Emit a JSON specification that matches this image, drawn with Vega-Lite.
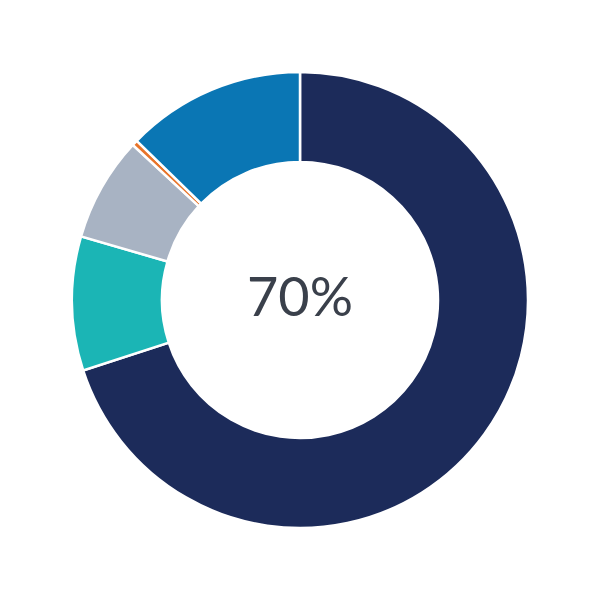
{
  "$schema": "https://vega.github.io/schema/vega-lite/v6.json",
  "width": 600,
  "height": 600,
  "autosize": {"type": "fit", "contains": "padding"},
  "padding": 0,
  "config": {"view": {"stroke": "transparent"}, "background": "#ffffff"},
  "data": {
    "values": [
      {"segment": "A", "share": 70.0, "rank": 1},
      {"segment": "B", "share": 9.5, "rank": 2},
      {"segment": "C", "share": 7.4, "rank": 3},
      {"segment": "D", "share": 0.4, "rank": 4},
      {"segment": "E", "share": 12.7, "rank": 5}
    ]
  },
  "layer": [
    {
      "mark": {"type": "arc", "radius": 228, "radius2": 138, "stroke": "#ffffff", "strokeWidth": 2.5},
      "encoding": {
        "theta": {"field": "share", "type": "quantitative", "stack": true},
        "order": {"field": "rank", "type": "quantitative"},
        "color": {
          "field": "segment",
          "type": "nominal",
          "scale": {
            "domain": ["A", "B", "C", "D", "E"],
            "range": ["#1c2b5a", "#1bb5b5", "#a8b3c3", "#e8742a", "#0a76b4"]
          },
          "legend": null
        }
      }
    },
    {
      "data": {"values": [{"label": "70%"}]},
      "mark": {"type": "text", "font": "Lato", "fontSize": 54, "color": "#3a404b", "align": "center", "baseline": "middle"},
      "encoding": {"text": {"field": "label"}}
    }
  ]
}
